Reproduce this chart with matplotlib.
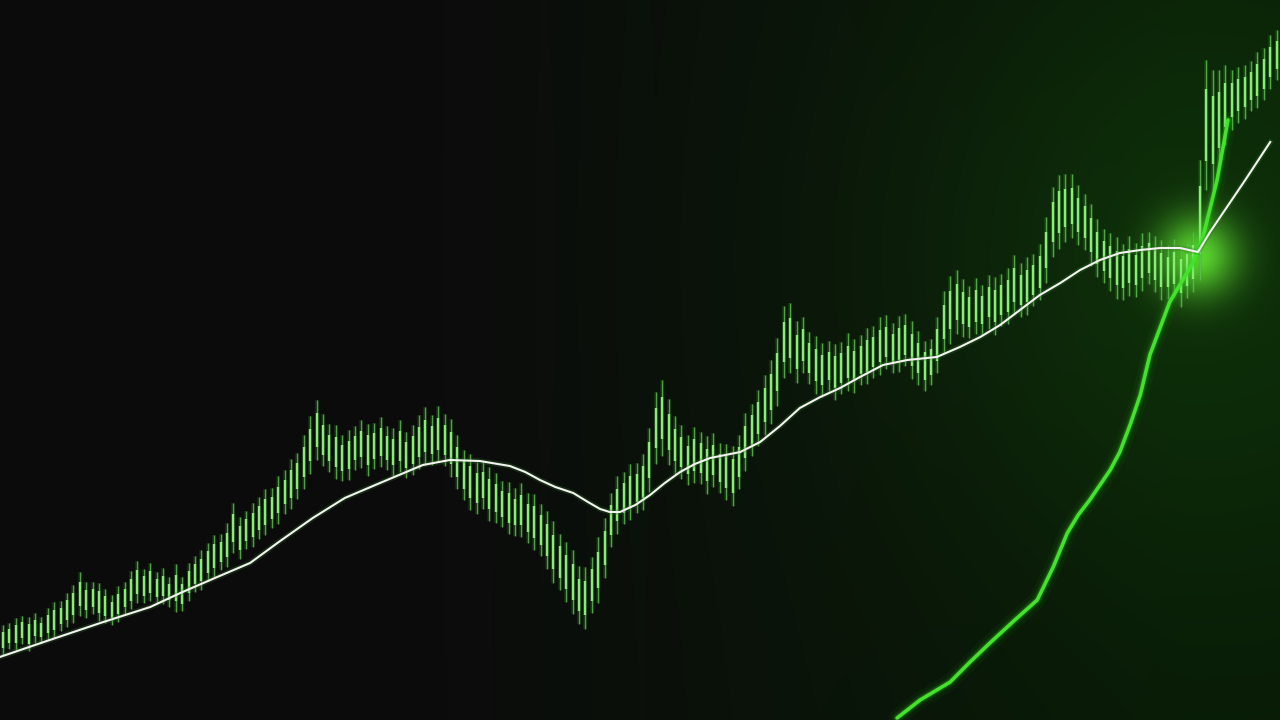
import numpy as np
import matplotlib
matplotlib.use("Agg")
import matplotlib.pyplot as plt

# bar mid prices and bar ranges (one per bar)
mids = [8.0, 8.4, 8.6, 9.0, 8.6, 9.2, 9.0, 9.6, 10.0, 10.4,
        11.0, 11.6, 12.6, 12.0, 12.2, 11.8, 11.4, 11.0, 11.6, 12.2,
        13.0, 13.8, 13.4, 13.8, 13.2, 13.4, 12.8, 13.2, 12.6, 13.8,
        14.6, 15.0, 15.8, 16.4, 16.8, 17.5, 19.2, 18.2, 19.0, 19.5,
        20.2, 20.8, 21.2, 22.0, 22.8, 23.6, 24.4, 25.8, 27.5, 29.0,
        28.0, 27.2, 26.8, 26.2, 26.5, 27.2, 27.6, 27.0, 27.4, 27.8,
        27.2, 26.8, 27.4, 26.5, 27.0, 27.8, 28.4, 28.0, 28.6, 28.0,
        27.2, 25.8, 24.5, 23.8, 23.2, 23.5, 22.6, 22.2, 21.6, 21.2,
        20.8, 21.0, 20.2, 19.8, 19.0, 18.0, 16.8, 15.8, 14.8, 13.8,
        12.5, 12.2, 13.5, 15.0, 17.2, 20.0, 21.5, 22.2, 22.8, 23.2,
        23.8, 26.0, 29.2, 30.2, 28.8, 27.5, 26.8, 26.0, 26.5, 26.2,
        25.5, 26.0, 25.2, 24.8, 24.4, 25.8, 27.8, 29.0, 30.2, 31.5,
        32.8, 34.8, 37.8, 38.2, 36.8, 37.5, 36.2, 35.5, 35.0, 35.4,
        34.8, 35.2, 35.8, 35.4, 36.0, 36.4, 36.8, 37.4, 37.8, 37.2,
        37.6, 38.0, 37.0, 36.2, 35.4, 35.8, 37.5, 39.8, 41.0, 41.8,
        41.2, 40.8, 41.4, 41.0, 41.8, 41.4, 42.0, 42.4, 43.5, 43.0,
        43.4, 44.0, 44.8, 47.0, 49.8, 50.8, 51.2, 51.4, 50.5, 49.8,
        48.5, 47.2, 46.4, 45.8, 45.2, 44.8, 45.4, 45.0, 45.8, 46.2,
        45.6, 45.0, 44.8, 45.2, 44.4, 45.0, 45.8, 50.0, 59.5, 59.0,
        60.0, 61.5, 62.0, 62.5, 62.8, 63.4, 64.0, 64.6, 65.8, 66.5]

ranges = [3.0, 2.6, 3.2, 2.8, 3.4, 3.0, 2.6, 3.2, 3.6, 3.0,
          3.4, 3.8, 4.4, 3.6, 3.2, 3.8, 3.4, 3.0, 3.6, 3.2,
          3.8, 4.2, 3.4, 3.8, 3.2, 3.6, 3.0, 4.8, 3.4, 3.8,
          3.6, 4.0, 3.8, 4.2, 3.6, 4.4, 5.0, 4.2, 3.8, 4.4,
          4.2, 4.6, 4.0, 4.8, 4.4, 5.0, 4.6, 5.4, 5.8, 6.0,
          5.2, 4.8, 5.4, 4.6, 5.0, 4.4, 4.8, 5.2, 4.6, 5.0,
          4.4, 4.8, 5.2, 4.6, 5.0, 5.4, 5.8, 5.0, 5.6, 5.2,
          5.8, 5.4, 5.0, 5.6, 5.2, 4.8, 5.4, 5.0, 4.6, 5.2,
          4.8, 5.4, 5.0, 5.6, 5.2, 5.8, 6.2, 5.6, 6.0, 6.4,
          5.8, 6.2, 5.6, 6.6, 6.0, 5.4, 5.8, 5.2, 5.6, 5.0,
          5.6, 6.4, 7.2, 7.6, 6.6, 5.8, 5.4, 5.0, 5.6, 5.2,
          5.8, 5.4, 5.0, 5.6, 6.0, 5.4, 5.8, 5.2, 5.6, 6.0,
          6.4, 6.8, 7.2, 7.0, 6.2, 5.6, 5.2, 5.8, 5.4, 5.0,
          5.6, 5.2, 5.8, 5.4, 5.0, 5.6, 5.2, 5.8, 5.4, 5.0,
          5.6, 5.2, 5.8, 5.4, 5.0, 4.6, 5.6, 6.2, 6.8, 6.4,
          5.8, 5.2, 5.6, 5.0, 5.4, 5.8, 5.2, 5.6, 6.0, 5.4,
          5.8, 5.2, 5.6, 6.6, 7.0, 7.4, 6.8, 6.4, 6.0, 5.6,
          6.2, 5.8, 5.4, 5.8, 6.2, 5.6, 6.0, 5.4, 5.8, 5.2,
          5.6, 6.0, 5.4, 5.8, 6.2, 5.6, 6.0, 12.0, 13.0, 12.0,
          10.0, 8.0, 6.0, 5.6, 5.4, 5.0, 5.6, 5.2, 5.4, 5.0]

# moving average line (bar position, value)
ma_x = [-0.5, 7.3, 15.2, 23.0, 27.7, 33.1, 38.6, 43.3, 48.4, 53.4,
        58.9, 65.6, 69.8, 74.5, 79.2, 81.6, 83.9, 86.3, 89.1, 91.4,
        93.3, 94.8, 96.4, 98.8, 101.1, 103.4, 105.8, 108.1, 110.5, 115.2,
        118.3, 121.4, 124.5, 127.7, 130.8, 133.9, 137.5, 141.3, 145.9, 149.5,
        152.7, 155.8, 158.9, 162.0, 165.2, 168.3, 171.4, 174.5, 177.7, 180.8,
        183.9, 186.7, 188.6, 194.1, 198.0]
ma_y = [6.3, 8.0, 9.7, 11.3, 12.7, 14.2, 15.7, 17.9, 20.2, 22.2,
        23.7, 25.5, 26.0, 25.9, 25.4, 24.8, 24.0, 23.3, 22.7, 21.8,
        21.1, 20.8, 20.8, 21.5, 22.5, 23.7, 24.8, 25.6, 26.2, 26.8,
        27.8, 29.4, 31.2, 32.3, 33.2, 34.3, 35.5, 36.0, 36.3, 37.3,
        38.3, 39.5, 41.0, 42.5, 43.7, 45.0, 46.0, 46.7, 47.0, 47.2,
        47.2, 46.8, 48.8, 54.0, 57.8]

# rising green curve
gc_x = [139.7, 143.3, 148.0, 151.1, 154.2, 158.1, 161.6, 164.1, 166.3, 168.0,
        169.8, 173.0, 174.5, 176.1, 177.7, 179.2, 182.3, 185.9, 187.5, 189.7,
        191.4]
gc_y = [0.2, 2.0, 3.8, 5.8, 7.7, 10.0, 12.0, 15.3, 18.7, 20.5,
        22.0, 25.0, 26.8, 29.5, 32.5, 36.5, 41.8, 45.7, 48.3, 54.0,
        60.0]

x0, x1 = -0.47, 199.53
y0, y1 = 0, 72

fig = plt.figure(figsize=(12.8, 7.2), dpi=100)
ax = fig.add_axes([0, 0, 1, 1])
ax.set_xlim(x0, x1)
ax.set_ylim(y0, y1)
ax.axis("off")

# background: near black turning dark green towards the right
H, W = 360, 640
yy, xx = np.mgrid[0:H, 0:W]
px = xx * 2.0
py = yy * 2.0
d2 = (px - 1197) ** 2 + (py - 255) ** 2
haze = np.exp(-d2 / (2 * 220.0 ** 2))
core = np.exp(-d2 / (2 * 28.0 ** 2))
side = np.clip((px - 420) / 760, 0, 1)
img = np.zeros((H, W, 3))
img[..., 0] = 0.045 - 0.012 * side + 0.02 * haze + 0.30 * core
img[..., 1] = 0.045 + 0.06 * side + 0.08 * haze + 0.65 * core
img[..., 2] = 0.045 - 0.02 * side + 0.01 * haze + 0.15 * core
img = np.clip(img, 0, 1)
ax.imshow(img, extent=[x0, x1, y0, y1], origin="upper", aspect="auto",
          interpolation="bilinear", zorder=0)

idx = np.arange(len(mids))
m = np.array(mids)
r = np.array(ranges)

# glow behind bars
ax.vlines(idx, m - r / 2, m + r / 2, color="#2f9a24", lw=3.0, alpha=0.18, zorder=1)
# wicks
ax.vlines(idx, m - r / 2, m + r / 2, color="#5fc24f", lw=1.0, alpha=0.8, zorder=2)
# bodies
ax.vlines(idx, m - r * 0.28, m + r * 0.28, color="#86ee72", lw=1.7, zorder=3)

# green curve with glow
for lw, a in [(12, 0.05), (7, 0.1), (4.5, 0.22)]:
    ax.plot(gc_x, gc_y, color="#2bd11a", lw=lw, alpha=a, solid_capstyle="round",
            solid_joinstyle="round", zorder=4)
ax.plot(gc_x, gc_y, color="#45e22c", lw=2.6, solid_capstyle="round",
        solid_joinstyle="round", zorder=5)

# moving average
ax.plot(ma_x, ma_y, color="#2e6e28", lw=4, alpha=0.3, zorder=6)
ax.plot(ma_x, ma_y, color="#f2f2ee", lw=1.5, solid_joinstyle="round", zorder=7)

fig.savefig("out.png", dpi=100, facecolor="black")
